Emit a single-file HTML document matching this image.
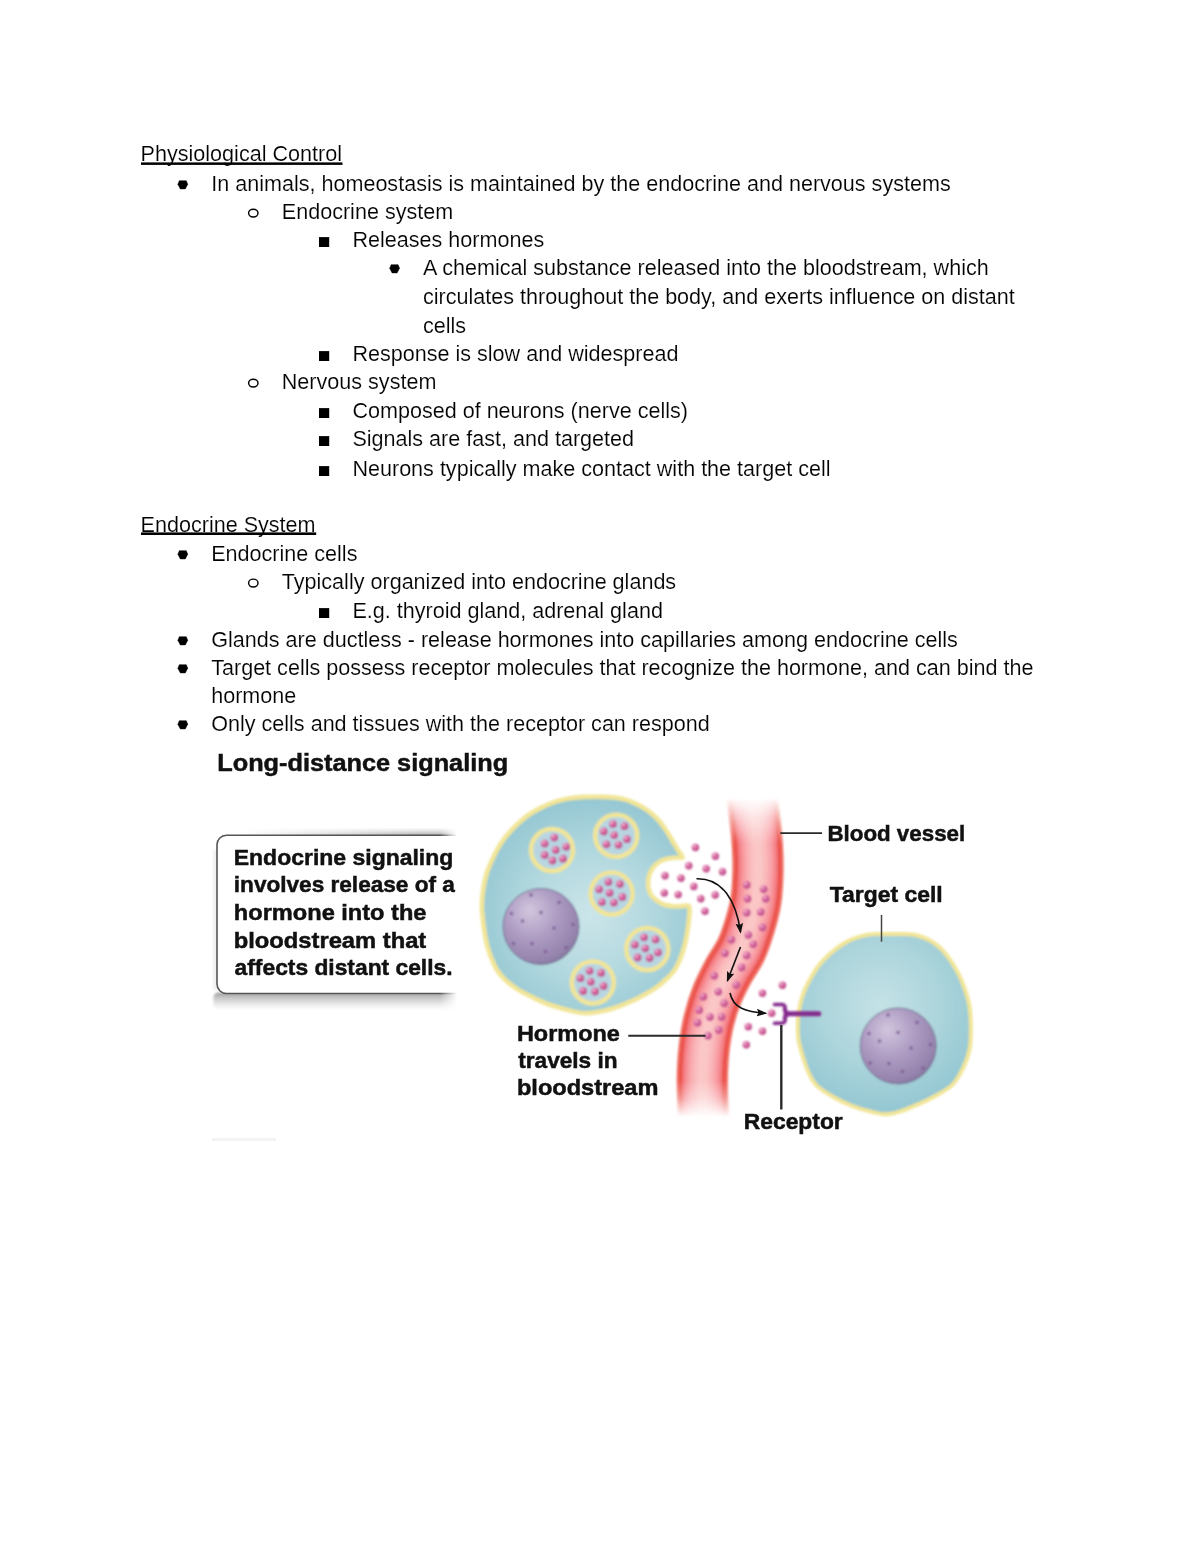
<!DOCTYPE html>
<html lang="en">
<head>
<meta charset="utf-8">
<title>Physiological Control</title>
<style>
html,body{margin:0;padding:0;background:#fff;}
body{width:1200px;height:1553px;position:relative;overflow:hidden;font-family:"Liberation Sans",sans-serif;color:#000;}
ul,li,h2{list-style:none;margin:0;padding:0;font-weight:normal;}
.t{position:absolute;display:block;white-space:nowrap;font-size:21.57px;line-height:28.0px;height:28.0px;}
#pg{position:absolute;left:0;top:0;width:1200px;height:1553px;will-change:transform;}
.t{-webkit-text-stroke:0.15px #fff;}
#dg{position:absolute;left:0;top:0;width:1200px;height:1553px;}
#dg text{font-family:"Liberation Sans",sans-serif;font-weight:bold;fill:#111;stroke:#111;stroke-width:0.5px;filter:blur(0.4px);}
</style>
</head>
<body>
<div id="pg">
<h2 class="t" style="left:140.6px;top:139.83px">Physiological Control</h2>
<ul>
<li><span class="t" style="left:211.2px;top:169.83px">In animals, homeostasis is maintained by the endocrine and nervous systems</span>
<ul>
<li><span class="t" style="left:281.8px;top:197.83px">Endocrine system</span>
<ul>
<li><span class="t" style="left:352.4px;top:225.83px">Releases hormones</span>
<ul>
<li><span class="t" style="left:423.0px;top:253.83px">A chemical substance released into the bloodstream, which</span>
<span class="t" style="left:423.0px;top:282.83px">circulates throughout the body, and exerts influence on distant</span>
<span class="t" style="left:423.0px;top:311.83px">cells</span></li>
</ul>
</li>
<li><span class="t" style="left:352.4px;top:339.83px">Response is slow and widespread</span></li>
</ul>
</li>
<li><span class="t" style="left:281.8px;top:367.83px">Nervous system</span>
<ul>
<li><span class="t" style="left:352.4px;top:396.83px">Composed of neurons (nerve cells)</span></li>
<li><span class="t" style="left:352.4px;top:424.83px">Signals are fast, and targeted</span></li>
<li><span class="t" style="left:352.4px;top:454.83px">Neurons typically make contact with the target cell</span></li>
</ul>
</li>
</ul>
</li>
</ul>
<h2 class="t" style="left:140.6px;top:510.83px">Endocrine System</h2>
<ul>
<li><span class="t" style="left:211.2px;top:539.83px">Endocrine cells</span>
<ul>
<li><span class="t" style="left:281.8px;top:567.83px">Typically organized into endocrine glands</span>
<ul>
<li><span class="t" style="left:352.4px;top:596.83px">E.g. thyroid gland, adrenal gland</span></li>
</ul>
</li>
</ul>
</li>
<li><span class="t" style="left:211.2px;top:625.83px">Glands are ductless - release hormones into capillaries among endocrine cells</span></li>
<li><span class="t" style="left:211.2px;top:653.83px">Target cells possess receptor molecules that recognize the hormone, and can bind the</span>
<span class="t" style="left:211.2px;top:681.83px">hormone</span></li>
<li><span class="t" style="left:211.2px;top:709.83px">Only cells and tissues with the receptor can respond</span></li>
</ul>
</div>
<svg id="dg" role="img" aria-label="Long-distance signaling diagram" viewBox="0 0 1200 1553" width="1200" height="1553">
<defs>
<radialGradient id="gc1" gradientUnits="userSpaceOnUse" cx="590" cy="915" r="115">
<stop offset="0" stop-color="#cbe5e9"/><stop offset="0.55" stop-color="#b2d8df"/><stop offset="1" stop-color="#96c8d3"/></radialGradient>
<radialGradient id="gc2" gradientUnits="userSpaceOnUse" cx="880" cy="1005" r="105">
<stop offset="0" stop-color="#c4e2e6"/><stop offset="0.55" stop-color="#add5dc"/><stop offset="1" stop-color="#95c8d3"/></radialGradient>
<radialGradient id="gn" cx="0.4" cy="0.35" r="0.7" fx="0.35" fy="0.28">
<stop offset="0" stop-color="#d2c6de"/><stop offset="0.5" stop-color="#ad9bc2"/><stop offset="0.88" stop-color="#9583ad"/><stop offset="1" stop-color="#7f7499"/></radialGradient>
<radialGradient id="gd" cx="0.4" cy="0.38" r="0.65" fx="0.32" fy="0.28">
<stop offset="0" stop-color="#f8cbe0"/><stop offset="0.4" stop-color="#da6ba3"/><stop offset="1" stop-color="#b84685"/></radialGradient>
<linearGradient id="gfade" gradientUnits="userSpaceOnUse" x1="0" y1="790" x2="0" y2="1122">
<stop offset="0" stop-color="#000"/><stop offset="0.024" stop-color="#000"/><stop offset="0.09" stop-color="#888"/><stop offset="0.16" stop-color="#fff"/><stop offset="0.875" stop-color="#fff"/><stop offset="0.93" stop-color="#999"/><stop offset="0.985" stop-color="#000"/><stop offset="1" stop-color="#000"/></linearGradient>
<mask id="mv" maskUnits="userSpaceOnUse" x="600" y="780" width="260" height="350"><rect x="600" y="780" width="260" height="350" fill="url(#gfade)"/></mask>
<linearGradient id="gbox" gradientUnits="userSpaceOnUse" x1="440" y1="0" x2="457" y2="0">
<stop offset="0" stop-color="#fff"/><stop offset="1" stop-color="#000"/></linearGradient>
<mask id="mb" maskUnits="userSpaceOnUse" x="200" y="820" width="270" height="200"><rect x="200" y="820" width="270" height="200" fill="url(#gbox)"/></mask>
<filter id="bl" x="-20%" y="-20%" width="140%" height="140%"><feGaussianBlur stdDeviation="0.85"/></filter>
<linearGradient id="gsh" x1="0" y1="0" x2="0" y2="1"><stop offset="0" stop-color="#000" stop-opacity="0.38"/><stop offset="0.3" stop-color="#000" stop-opacity="0.22"/><stop offset="0.65" stop-color="#000" stop-opacity="0.09"/><stop offset="1" stop-color="#000" stop-opacity="0"/></linearGradient>
<linearGradient id="gsh2" x1="0" y1="1" x2="0" y2="0"><stop offset="0" stop-color="#000" stop-opacity="0.3"/><stop offset="0.5" stop-color="#000" stop-opacity="0.12"/><stop offset="1" stop-color="#000" stop-opacity="0"/></linearGradient>
<linearGradient id="gsh3" gradientUnits="userSpaceOnUse" x1="240" y1="0" x2="420" y2="0"><stop offset="0" stop-color="#000"/><stop offset="1" stop-color="#fff"/></linearGradient>
<mask id="mt" maskUnits="userSpaceOnUse" x="200" y="820" width="270" height="20"><rect x="200" y="820" width="270" height="20" fill="url(#gsh3)"/></mask>
<filter id="bl3" x="-5%" y="-30%" width="110%" height="160%"><feGaussianBlur stdDeviation="1.2"/></filter>
<filter id="bl2" x="-20%" y="-50%" width="140%" height="200%"><feGaussianBlur stdDeviation="2.5"/></filter>
<marker id="ah" viewBox="0 0 12 10" refX="10" refY="5" markerWidth="10.5" markerHeight="8.75" orient="auto" markerUnits="userSpaceOnUse"><path d="M0,0.6 L12,5 L0,9.4 L2,5Z" fill="#111"/></marker>

</defs>
<g mask="url(#mb)">
<g filter="url(#bl3)"><rect x="213.5" y="992.5" width="250" height="17.5" rx="5" fill="url(#gsh)"/><rect x="213" y="850" width="4" height="140" fill="#000" opacity="0.06"/></g>
<g mask="url(#mt)"><rect x="230" y="827.5" width="240" height="7.5" fill="url(#gsh2)"/></g>
<rect x="217" y="835.2" width="260" height="158.3" rx="9.5" fill="#fff" stroke="#555" stroke-width="1.6"/>
</g>
<g filter="url(#bl)">
<path d="M585.0,796.9C591.0,796.6 596.9,796.6 602.9,796.9C608.9,797.1 615.7,797.5 620.9,798.6C626.2,799.6 630.2,801.3 634.4,803.1C638.6,804.9 642.3,806.8 646.0,809.3C649.8,811.9 653.5,814.9 656.8,818.4C660.1,821.8 663.1,826.1 665.8,830.0C668.5,833.9 670.8,838.3 672.9,841.7C675.0,845.2 676.7,848.1 678.3,850.7C679.9,853.3 682.8,856.2 682.6,857.3C682.4,858.4 680.1,857.1 677.2,857.5C674.3,857.8 668.6,858.1 665.0,859.3C661.4,860.5 658.3,862.1 655.8,864.5C653.2,866.8 651.0,870.4 649.7,873.6C648.4,876.8 648.0,880.5 648.0,883.8C648.1,887.0 648.8,890.5 650.0,893.1C651.2,895.7 652.8,897.3 655.1,899.2C657.5,901.1 660.6,903.5 664.3,904.7C668.0,905.9 673.2,906.3 677.2,906.5C681.1,906.6 686.1,905.1 688.2,905.8C690.3,906.5 689.4,908.8 689.5,910.9C689.6,912.9 689.4,914.9 689.0,918.4C688.7,921.9 688.0,927.4 687.3,931.9C686.5,936.4 685.8,940.8 684.6,945.3C683.4,949.8 681.8,954.8 680.2,958.9C678.6,962.9 677.2,966.2 674.8,969.7C672.4,973.1 669.1,976.4 665.8,979.5C662.5,982.7 658.9,985.8 655.0,988.4C651.1,991.1 646.7,993.4 642.5,995.7C638.3,997.9 634.2,1000.0 629.8,1001.9C625.5,1003.9 620.9,1005.8 616.4,1007.3C611.9,1008.8 608.1,1010.0 602.9,1010.9C597.7,1011.9 590.2,1013.2 585.0,1013.2C579.7,1013.2 576.0,1011.9 571.5,1010.9C567.0,1009.9 562.5,1008.6 558.1,1007.3C553.6,1005.9 549.0,1004.6 544.6,1002.8C540.1,1001.0 535.6,998.7 531.1,996.5C526.7,994.3 521.7,991.9 517.6,989.4C513.6,986.8 510.1,984.3 506.8,981.3C503.5,978.3 500.4,975.1 497.9,971.4C495.4,967.6 493.5,963.2 491.7,958.8C489.9,954.5 488.4,949.8 487.2,945.3C486.0,940.8 485.3,936.4 484.5,931.9C483.8,927.4 483.2,922.9 482.8,918.4C482.3,913.9 481.8,910.3 481.9,905.0C482.0,899.7 482.9,891.9 483.7,886.6C484.5,881.3 485.4,877.5 486.8,873.2C488.1,868.9 489.9,864.9 491.8,860.7C493.7,856.5 495.7,852.1 498.0,848.1C500.4,844.0 503.1,840.1 506.0,836.4C509.0,832.7 512.3,829.1 515.9,825.6C519.5,822.2 523.5,818.7 527.5,815.7C531.6,812.8 535.8,810.3 540.2,808.1C544.5,805.9 549.1,803.9 553.6,802.3C558.0,800.7 561.8,799.6 567.1,798.7C572.3,797.8 579.0,797.2 585.0,796.9Z" fill="url(#gc1)" stroke="#f1e596" stroke-width="4.6" stroke-linejoin="round"/>
<g transform="translate(552,850)"><circle r="21" fill="#b8d6e2" stroke="#f1e596" stroke-width="4.5"/><circle cx="2.3" cy="-12.4" r="3.9" fill="url(#gd)"/><circle cx="-7.3" cy="-6.4" r="3.9" fill="url(#gd)"/><circle cx="14.2" cy="-3.2" r="3.9" fill="url(#gd)"/><circle cx="3.7" cy="0" r="3.9" fill="url(#gd)"/><circle cx="-7.3" cy="5" r="3.9" fill="url(#gd)"/><circle cx="0.5" cy="10.5" r="3.9" fill="url(#gd)"/><circle cx="11" cy="8.7" r="3.9" fill="url(#gd)"/></g>
<g transform="translate(616.2,835.8)"><circle r="21" fill="#b8d6e2" stroke="#f1e596" stroke-width="4.5"/><circle cx="-3.2" cy="-11.7" r="3.9" fill="url(#gd)"/><circle cx="8.3" cy="-9.6" r="3.9" fill="url(#gd)"/><circle cx="-12.4" cy="-4.3" r="3.9" fill="url(#gd)"/><circle cx="-2" cy="-0.7" r="3.9" fill="url(#gd)"/><circle cx="10.7" cy="3.4" r="3.9" fill="url(#gd)"/><circle cx="-9.7" cy="8.5" r="3.9" fill="url(#gd)"/><circle cx="2.3" cy="9" r="3.9" fill="url(#gd)"/></g>
<g transform="translate(611.6,893.6)"><circle r="21" fill="#b8d6e2" stroke="#f1e596" stroke-width="4.5"/><circle cx="-3.2" cy="-11.7" r="3.9" fill="url(#gd)"/><circle cx="8.3" cy="-9.6" r="3.9" fill="url(#gd)"/><circle cx="-12.4" cy="-4.3" r="3.9" fill="url(#gd)"/><circle cx="-2" cy="-0.7" r="3.9" fill="url(#gd)"/><circle cx="10.7" cy="3.4" r="3.9" fill="url(#gd)"/><circle cx="-9.7" cy="8.5" r="3.9" fill="url(#gd)"/><circle cx="2.3" cy="9" r="3.9" fill="url(#gd)"/></g>
<g transform="translate(647.3,949)"><circle r="21" fill="#b8d6e2" stroke="#f1e596" stroke-width="4.5"/><circle cx="-3.2" cy="-11.7" r="3.9" fill="url(#gd)"/><circle cx="8.3" cy="-9.6" r="3.9" fill="url(#gd)"/><circle cx="-12.4" cy="-4.3" r="3.9" fill="url(#gd)"/><circle cx="-2" cy="-0.7" r="3.9" fill="url(#gd)"/><circle cx="10.7" cy="3.4" r="3.9" fill="url(#gd)"/><circle cx="-9.7" cy="8.5" r="3.9" fill="url(#gd)"/><circle cx="2.3" cy="9" r="3.9" fill="url(#gd)"/></g>
<g transform="translate(592.8,982.5)"><circle r="21" fill="#b8d6e2" stroke="#f1e596" stroke-width="4.5"/><circle cx="-3.2" cy="-11.7" r="3.9" fill="url(#gd)"/><circle cx="8.3" cy="-9.6" r="3.9" fill="url(#gd)"/><circle cx="-12.4" cy="-4.3" r="3.9" fill="url(#gd)"/><circle cx="-2" cy="-0.7" r="3.9" fill="url(#gd)"/><circle cx="10.7" cy="3.4" r="3.9" fill="url(#gd)"/><circle cx="-9.7" cy="8.5" r="3.9" fill="url(#gd)"/><circle cx="2.3" cy="9" r="3.9" fill="url(#gd)"/></g>
<circle cx="541" cy="926.5" r="38" fill="url(#gn)" stroke="#727092" stroke-width="1"/>
<circle cx="531.0" cy="895.0" r="1.7" fill="#7f5a95"/>
<circle cx="559.0" cy="902.5" r="1.7" fill="#7f5a95"/>
<circle cx="511.5" cy="913.5" r="1.7" fill="#7f5a95"/>
<circle cx="541.0" cy="912.5" r="1.7" fill="#7f5a95"/>
<circle cx="522.5" cy="921.0" r="1.7" fill="#7f5a95"/>
<circle cx="554.0" cy="928.0" r="1.7" fill="#7f5a95"/>
<circle cx="573.0" cy="924.5" r="1.7" fill="#7f5a95"/>
<circle cx="513.5" cy="943.5" r="1.7" fill="#7f5a95"/>
<circle cx="532.0" cy="943.5" r="1.7" fill="#7f5a95"/>
<circle cx="545.5" cy="951.5" r="1.7" fill="#7f5a95"/>
<circle cx="566.0" cy="947.5" r="1.7" fill="#7f5a95"/>
<path d="M885.0,934.1C879.8,934.1 877.5,933.7 873.5,934.1C869.6,934.4 865.4,935.1 861.3,936.1C857.2,937.2 853.0,938.7 849.1,940.6C845.1,942.5 841.4,944.9 837.7,947.5C834.1,950.2 830.3,953.4 827.1,956.5C823.8,959.7 820.9,962.8 818.2,966.3C815.5,969.9 813.1,974.0 810.9,977.8C808.7,981.6 806.8,985.3 805.1,989.1C803.5,992.9 802.2,996.6 801.1,1000.5C800.1,1004.5 799.2,1008.7 798.7,1012.8C798.1,1016.8 797.8,1020.5 797.8,1025.0C797.8,1029.5 797.7,1034.5 798.5,1039.6C799.3,1044.8 801.0,1050.5 802.7,1056.0C804.3,1061.4 806.1,1067.3 808.4,1072.2C810.7,1077.1 812.4,1081.3 816.5,1085.4C820.6,1089.4 826.7,1093.2 832.9,1096.7C839.0,1100.2 846.5,1103.8 853.2,1106.4C859.9,1109.0 867.8,1110.9 873.2,1112.2C878.7,1113.5 881.4,1114.3 886.0,1114.2C890.5,1114.1 894.6,1113.2 900.4,1111.3C906.2,1109.5 914.7,1105.9 920.9,1103.2C927.0,1100.5 931.9,1098.1 937.1,1095.1C942.3,1092.1 948.0,1088.9 951.8,1085.4C955.6,1081.8 957.6,1078.1 960.0,1073.9C962.5,1069.7 964.8,1064.4 966.5,1060.0C968.1,1055.6 969.1,1051.6 969.8,1047.8C970.5,1043.9 970.5,1039.8 970.7,1036.7C970.9,1033.6 970.9,1032.4 970.9,1029.1C970.9,1025.8 970.8,1020.8 970.5,1016.9C970.2,1012.9 970.0,1009.2 969.3,1005.4C968.6,1001.6 967.6,997.8 966.4,994.0C965.3,990.2 964.1,986.6 962.4,982.6C960.8,978.7 958.9,974.3 956.7,970.4C954.5,966.4 952.1,962.6 949.4,958.9C946.7,955.2 943.9,951.4 940.5,948.3C937.1,945.2 933.0,942.2 929.1,940.1C925.1,937.9 920.9,936.2 916.8,935.2C912.7,934.2 909.9,934.2 904.6,934.0C899.2,933.9 890.1,934.1 885.0,934.1Z" fill="url(#gc2)" stroke="#f1e596" stroke-width="4" stroke-linejoin="round"/>
<circle cx="898.2" cy="1046" r="38" fill="url(#gn)" stroke="#727092" stroke-width="1"/>
<circle cx="888.0" cy="1015.0" r="1.7" fill="#7f5a95"/>
<circle cx="917.0" cy="1022.5" r="1.7" fill="#7f5a95"/>
<circle cx="869.0" cy="1033.5" r="1.7" fill="#7f5a95"/>
<circle cx="898.0" cy="1032.5" r="1.7" fill="#7f5a95"/>
<circle cx="879.5" cy="1041.0" r="1.7" fill="#7f5a95"/>
<circle cx="911.0" cy="1048.0" r="1.7" fill="#7f5a95"/>
<circle cx="930.5" cy="1044.5" r="1.7" fill="#7f5a95"/>
<circle cx="870.0" cy="1063.0" r="1.7" fill="#7f5a95"/>
<circle cx="889.0" cy="1063.5" r="1.7" fill="#7f5a95"/>
<circle cx="902.5" cy="1071.5" r="1.7" fill="#7f5a95"/>
<circle cx="923.0" cy="1068.0" r="1.7" fill="#7f5a95"/>
<g mask="url(#mv)">
<path d="M751.5,790.0C751.9,793.7 753.1,803.7 754.0,812.0C754.9,820.3 756.3,830.3 757.0,840.0C757.7,849.7 758.2,860.0 758.0,870.0C757.8,880.0 757.3,890.8 756.0,900.0C754.7,909.2 752.5,916.7 750.0,925.0C747.5,933.3 744.7,942.2 741.0,950.0C737.3,957.8 732.1,964.3 728.0,972.0C723.9,979.7 719.7,988.0 716.5,996.0C713.3,1004.0 711.0,1011.8 709.0,1020.0C707.0,1028.2 705.6,1036.7 704.5,1045.0C703.4,1053.3 702.8,1061.7 702.5,1070.0C702.2,1078.3 702.2,1085.8 702.5,1095.0C702.8,1104.2 703.8,1120.0 704.0,1125.0" fill="none" stroke="#ec5248" stroke-width="51"/>
<path d="M751.5,790.0C751.9,793.7 753.1,803.7 754.0,812.0C754.9,820.3 756.3,830.3 757.0,840.0C757.7,849.7 758.2,860.0 758.0,870.0C757.8,880.0 757.3,890.8 756.0,900.0C754.7,909.2 752.5,916.7 750.0,925.0C747.5,933.3 744.7,942.2 741.0,950.0C737.3,957.8 732.1,964.3 728.0,972.0C723.9,979.7 719.7,988.0 716.5,996.0C713.3,1004.0 711.0,1011.8 709.0,1020.0C707.0,1028.2 705.6,1036.7 704.5,1045.0C703.4,1053.3 702.8,1061.7 702.5,1070.0C702.2,1078.3 702.2,1085.8 702.5,1095.0C702.8,1104.2 703.8,1120.0 704.0,1125.0" fill="none" stroke="#f37a6c" stroke-width="48.6"/>
<path d="M751.5,790.0C751.9,793.7 753.1,803.7 754.0,812.0C754.9,820.3 756.3,830.3 757.0,840.0C757.7,849.7 758.2,860.0 758.0,870.0C757.8,880.0 757.3,890.8 756.0,900.0C754.7,909.2 752.5,916.7 750.0,925.0C747.5,933.3 744.7,942.2 741.0,950.0C737.3,957.8 732.1,964.3 728.0,972.0C723.9,979.7 719.7,988.0 716.5,996.0C713.3,1004.0 711.0,1011.8 709.0,1020.0C707.0,1028.2 705.6,1036.7 704.5,1045.0C703.4,1053.3 702.8,1061.7 702.5,1070.0C702.2,1078.3 702.2,1085.8 702.5,1095.0C702.8,1104.2 703.8,1120.0 704.0,1125.0" fill="none" stroke="#e6423b" stroke-width="46"/>
<path d="M751.5,790.0C751.9,793.7 753.1,803.7 754.0,812.0C754.9,820.3 756.3,830.3 757.0,840.0C757.7,849.7 758.2,860.0 758.0,870.0C757.8,880.0 757.3,890.8 756.0,900.0C754.7,909.2 752.5,916.7 750.0,925.0C747.5,933.3 744.7,942.2 741.0,950.0C737.3,957.8 732.1,964.3 728.0,972.0C723.9,979.7 719.7,988.0 716.5,996.0C713.3,1004.0 711.0,1011.8 709.0,1020.0C707.0,1028.2 705.6,1036.7 704.5,1045.0C703.4,1053.3 702.8,1061.7 702.5,1070.0C702.2,1078.3 702.2,1085.8 702.5,1095.0C702.8,1104.2 703.8,1120.0 704.0,1125.0" fill="none" stroke="#ee5a55" stroke-width="43"/>
<path d="M751.5,790.0C751.9,793.7 753.1,803.7 754.0,812.0C754.9,820.3 756.3,830.3 757.0,840.0C757.7,849.7 758.2,860.0 758.0,870.0C757.8,880.0 757.3,890.8 756.0,900.0C754.7,909.2 752.5,916.7 750.0,925.0C747.5,933.3 744.7,942.2 741.0,950.0C737.3,957.8 732.1,964.3 728.0,972.0C723.9,979.7 719.7,988.0 716.5,996.0C713.3,1004.0 711.0,1011.8 709.0,1020.0C707.0,1028.2 705.6,1036.7 704.5,1045.0C703.4,1053.3 702.8,1061.7 702.5,1070.0C702.2,1078.3 702.2,1085.8 702.5,1095.0C702.8,1104.2 703.8,1120.0 704.0,1125.0" fill="none" stroke="#f37478" stroke-width="40"/>
<path d="M751.5,790.0C751.9,793.7 753.1,803.7 754.0,812.0C754.9,820.3 756.3,830.3 757.0,840.0C757.7,849.7 758.2,860.0 758.0,870.0C757.8,880.0 757.3,890.8 756.0,900.0C754.7,909.2 752.5,916.7 750.0,925.0C747.5,933.3 744.7,942.2 741.0,950.0C737.3,957.8 732.1,964.3 728.0,972.0C723.9,979.7 719.7,988.0 716.5,996.0C713.3,1004.0 711.0,1011.8 709.0,1020.0C707.0,1028.2 705.6,1036.7 704.5,1045.0C703.4,1053.3 702.8,1061.7 702.5,1070.0C702.2,1078.3 702.2,1085.8 702.5,1095.0C702.8,1104.2 703.8,1120.0 704.0,1125.0" fill="none" stroke="#f68a90" stroke-width="36"/>
<path d="M751.5,790.0C751.9,793.7 753.1,803.7 754.0,812.0C754.9,820.3 756.3,830.3 757.0,840.0C757.7,849.7 758.2,860.0 758.0,870.0C757.8,880.0 757.3,890.8 756.0,900.0C754.7,909.2 752.5,916.7 750.0,925.0C747.5,933.3 744.7,942.2 741.0,950.0C737.3,957.8 732.1,964.3 728.0,972.0C723.9,979.7 719.7,988.0 716.5,996.0C713.3,1004.0 711.0,1011.8 709.0,1020.0C707.0,1028.2 705.6,1036.7 704.5,1045.0C703.4,1053.3 702.8,1061.7 702.5,1070.0C702.2,1078.3 702.2,1085.8 702.5,1095.0C702.8,1104.2 703.8,1120.0 704.0,1125.0" fill="none" stroke="#f89ca3" stroke-width="31"/>
<path d="M751.5,790.0C751.9,793.7 753.1,803.7 754.0,812.0C754.9,820.3 756.3,830.3 757.0,840.0C757.7,849.7 758.2,860.0 758.0,870.0C757.8,880.0 757.3,890.8 756.0,900.0C754.7,909.2 752.5,916.7 750.0,925.0C747.5,933.3 744.7,942.2 741.0,950.0C737.3,957.8 732.1,964.3 728.0,972.0C723.9,979.7 719.7,988.0 716.5,996.0C713.3,1004.0 711.0,1011.8 709.0,1020.0C707.0,1028.2 705.6,1036.7 704.5,1045.0C703.4,1053.3 702.8,1061.7 702.5,1070.0C702.2,1078.3 702.2,1085.8 702.5,1095.0C702.8,1104.2 703.8,1120.0 704.0,1125.0" fill="none" stroke="#f9adb1" stroke-width="25"/>
<path d="M751.5,790.0C751.9,793.7 753.1,803.7 754.0,812.0C754.9,820.3 756.3,830.3 757.0,840.0C757.7,849.7 758.2,860.0 758.0,870.0C757.8,880.0 757.3,890.8 756.0,900.0C754.7,909.2 752.5,916.7 750.0,925.0C747.5,933.3 744.7,942.2 741.0,950.0C737.3,957.8 732.1,964.3 728.0,972.0C723.9,979.7 719.7,988.0 716.5,996.0C713.3,1004.0 711.0,1011.8 709.0,1020.0C707.0,1028.2 705.6,1036.7 704.5,1045.0C703.4,1053.3 702.8,1061.7 702.5,1070.0C702.2,1078.3 702.2,1085.8 702.5,1095.0C702.8,1104.2 703.8,1120.0 704.0,1125.0" fill="none" stroke="#fabbbd" stroke-width="18"/>
<path d="M751.5,790.0C751.9,793.7 753.1,803.7 754.0,812.0C754.9,820.3 756.3,830.3 757.0,840.0C757.7,849.7 758.2,860.0 758.0,870.0C757.8,880.0 757.3,890.8 756.0,900.0C754.7,909.2 752.5,916.7 750.0,925.0C747.5,933.3 744.7,942.2 741.0,950.0C737.3,957.8 732.1,964.3 728.0,972.0C723.9,979.7 719.7,988.0 716.5,996.0C713.3,1004.0 711.0,1011.8 709.0,1020.0C707.0,1028.2 705.6,1036.7 704.5,1045.0C703.4,1053.3 702.8,1061.7 702.5,1070.0C702.2,1078.3 702.2,1085.8 702.5,1095.0C702.8,1104.2 703.8,1120.0 704.0,1125.0" fill="none" stroke="#fbc6c6" stroke-width="10"/>
</g>
</g>
<g filter="url(#bl)">
<circle cx="695.4" cy="847.5" r="3.7" fill="url(#gd)"/>
<circle cx="715.4" cy="856.2" r="3.7" fill="url(#gd)"/>
<circle cx="688.8" cy="865.8" r="3.7" fill="url(#gd)"/>
<circle cx="706.2" cy="868.8" r="3.7" fill="url(#gd)"/>
<circle cx="722.5" cy="871.7" r="3.7" fill="url(#gd)"/>
<circle cx="665.0" cy="875.8" r="3.7" fill="url(#gd)"/>
<circle cx="681.0" cy="878.3" r="3.7" fill="url(#gd)"/>
<circle cx="693.8" cy="886.5" r="3.7" fill="url(#gd)"/>
<circle cx="664.3" cy="892.9" r="3.7" fill="url(#gd)"/>
<circle cx="678.2" cy="894.6" r="3.7" fill="url(#gd)"/>
<circle cx="700.8" cy="898.8" r="3.7" fill="url(#gd)"/>
<circle cx="715.2" cy="895.0" r="3.7" fill="url(#gd)"/>
<circle cx="705.0" cy="911.2" r="3.7" fill="url(#gd)"/>
<circle cx="746.7" cy="885.0" r="3.7" fill="url(#gd)"/>
<circle cx="763.7" cy="889.2" r="3.7" fill="url(#gd)"/>
<circle cx="747.5" cy="898.7" r="3.7" fill="url(#gd)"/>
<circle cx="765.8" cy="898.7" r="3.7" fill="url(#gd)"/>
<circle cx="746.7" cy="912.8" r="3.7" fill="url(#gd)"/>
<circle cx="760.8" cy="912.0" r="3.7" fill="url(#gd)"/>
<circle cx="762.5" cy="927.5" r="3.7" fill="url(#gd)"/>
<circle cx="748.3" cy="935.0" r="3.7" fill="url(#gd)"/>
<circle cx="731.3" cy="939.7" r="3.7" fill="url(#gd)"/>
<circle cx="753.3" cy="944.2" r="3.7" fill="url(#gd)"/>
<circle cx="725.0" cy="953.3" r="3.7" fill="url(#gd)"/>
<circle cx="746.7" cy="955.5" r="3.7" fill="url(#gd)"/>
<circle cx="741.7" cy="967.5" r="3.7" fill="url(#gd)"/>
<circle cx="714.2" cy="975.8" r="3.7" fill="url(#gd)"/>
<circle cx="736.3" cy="985.0" r="3.7" fill="url(#gd)"/>
<circle cx="718.3" cy="991.7" r="3.7" fill="url(#gd)"/>
<circle cx="703.3" cy="996.7" r="3.7" fill="url(#gd)"/>
<circle cx="724.2" cy="1003.3" r="3.7" fill="url(#gd)"/>
<circle cx="699.2" cy="1010.0" r="3.7" fill="url(#gd)"/>
<circle cx="710.0" cy="1017.0" r="3.7" fill="url(#gd)"/>
<circle cx="721.7" cy="1017.0" r="3.7" fill="url(#gd)"/>
<circle cx="697.5" cy="1022.8" r="3.7" fill="url(#gd)"/>
<circle cx="718.7" cy="1030.0" r="3.7" fill="url(#gd)"/>
<circle cx="708.0" cy="1035.8" r="3.7" fill="url(#gd)"/>
<circle cx="782.5" cy="985.3" r="3.7" fill="url(#gd)"/>
<circle cx="762.5" cy="993.3" r="3.7" fill="url(#gd)"/>
<circle cx="771.7" cy="1013.3" r="3.7" fill="url(#gd)"/>
<circle cx="748.3" cy="1026.7" r="3.7" fill="url(#gd)"/>
<circle cx="762.5" cy="1031.3" r="3.7" fill="url(#gd)"/>
<circle cx="746.3" cy="1044.7" r="3.7" fill="url(#gd)"/>
<g fill="none" stroke="#84298c" stroke-linecap="round" stroke-linejoin="round"><path d="M774.4,1004.5H781.5Q785.3,1004.5 785.3,1008.5V1019.2Q785.3,1023.2 781.5,1023.2H774.4" stroke-width="3.4"/><path d="M786.5,1013.8H818.8" stroke-width="5"/><path d="M784,1009.5L789,1013.8L784,1018" stroke-width="3"/></g>
</g>
<g fill="none" stroke="#111" stroke-width="1.6">
<path d="M696.5,878.8 C722,878 736,900 740.5,932" marker-end="url(#ah)"/>
<path d="M740.5,947 L727.5,980.5" marker-end="url(#ah)"/>
<path d="M730,993 C733,1008 746,1012 765.5,1013.2" marker-end="url(#ah)"/>
</g>
<g fill="none" stroke="#2a2a2a">
<path d="M780.3,833.1H822" stroke-width="1.7"/>
<path d="M881.5,915V941.7" stroke-width="1.5" stroke="#444"/>
<path d="M628.3,1035.8H705.5" stroke-width="2.1"/>
<path d="M781.3,1025V1109.5" stroke-width="2.4"/>
</g>
<text x="217.28" y="771" font-size="24.4" textLength="290.83" lengthAdjust="spacingAndGlyphs">Long-distance signaling</text>
<text x="233.77" y="865.1" font-size="22.6" textLength="219.56" lengthAdjust="spacingAndGlyphs">Endocrine signaling</text>
<text x="233.84" y="892.2" font-size="22.6" textLength="220.99" lengthAdjust="spacingAndGlyphs">involves release of a</text>
<text x="233.87" y="919.6" font-size="22.6" textLength="192.60" lengthAdjust="spacingAndGlyphs">hormone into the</text>
<text x="233.71" y="947.8" font-size="22.6" textLength="192.55" lengthAdjust="spacingAndGlyphs">bloodstream that</text>
<text x="234.60" y="975.4" font-size="22.6" textLength="217.95" lengthAdjust="spacingAndGlyphs">affects distant cells.</text>
<text x="827.40" y="840.6" font-size="22.6" textLength="137.82" lengthAdjust="spacingAndGlyphs">Blood vessel</text>
<text x="829.81" y="901.8" font-size="22.6" textLength="112.83" lengthAdjust="spacingAndGlyphs">Target cell</text>
<text x="516.93" y="1040.7" font-size="22.6" textLength="102.98" lengthAdjust="spacingAndGlyphs">Hormone</text>
<text x="518.23" y="1068" font-size="22.6" textLength="99.35" lengthAdjust="spacingAndGlyphs">travels in</text>
<text x="516.93" y="1095.4" font-size="22.6" textLength="141.51" lengthAdjust="spacingAndGlyphs">bloodstream</text>
<text x="743.82" y="1128.7" font-size="22.6" textLength="98.88" lengthAdjust="spacingAndGlyphs">Receptor</text>
<rect x="212" y="1138" width="64" height="3" fill="#f3f3f3"/>
<g fill="#000">
<rect x="141" y="162.4" width="201.5" height="2.5"/>
<path transform="translate(182.8,184.8)" d="M-3.5,-4.1H3.5L4.9,-0.6L2.5,4.1H-2.5L-4.9,-0.6Z" stroke="#000" stroke-width="0.5" stroke-linejoin="round"/>
<ellipse cx="253.3" cy="213.1" rx="4.7" ry="3.95" fill="none" stroke="#000" stroke-width="1.45"/>
<rect x="319.0" y="237.1" width="10.2" height="9.9"/>
<path transform="translate(394.6,268.8)" d="M-3.5,-4.1H3.5L4.9,-0.6L2.5,4.1H-2.5L-4.9,-0.6Z" stroke="#000" stroke-width="0.5" stroke-linejoin="round"/>
<rect x="319.0" y="351.1" width="10.2" height="9.9"/>
<ellipse cx="253.3" cy="383.1" rx="4.7" ry="3.95" fill="none" stroke="#000" stroke-width="1.45"/>
<rect x="319.0" y="408.1" width="10.2" height="9.9"/>
<rect x="319.0" y="436.1" width="10.2" height="9.9"/>
<rect x="319.0" y="466.1" width="10.2" height="9.9"/>
<rect x="141" y="532.4" width="175.2" height="2.6"/>
<path transform="translate(182.8,554.8)" d="M-3.5,-4.1H3.5L4.9,-0.6L2.5,4.1H-2.5L-4.9,-0.6Z" stroke="#000" stroke-width="0.5" stroke-linejoin="round"/>
<ellipse cx="253.3" cy="583.1" rx="4.7" ry="3.95" fill="none" stroke="#000" stroke-width="1.45"/>
<rect x="319.0" y="608.1" width="10.2" height="9.9"/>
<path transform="translate(182.8,640.8)" d="M-3.5,-4.1H3.5L4.9,-0.6L2.5,4.1H-2.5L-4.9,-0.6Z" stroke="#000" stroke-width="0.5" stroke-linejoin="round"/>
<path transform="translate(182.8,668.8)" d="M-3.5,-4.1H3.5L4.9,-0.6L2.5,4.1H-2.5L-4.9,-0.6Z" stroke="#000" stroke-width="0.5" stroke-linejoin="round"/>
<path transform="translate(182.8,724.8)" d="M-3.5,-4.1H3.5L4.9,-0.6L2.5,4.1H-2.5L-4.9,-0.6Z" stroke="#000" stroke-width="0.5" stroke-linejoin="round"/>
</g>
</svg>
</body>
</html>
